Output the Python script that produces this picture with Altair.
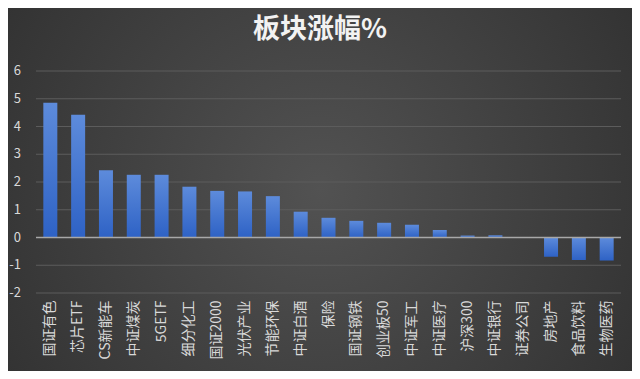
import altair as alt
import pandas as pd

categories = ["国证有色", "芯片ETF", "CS新能车", "中证煤炭", "5GETF", "细分化工", "国证2000",
              "光伏产业", "节能环保", "中证白酒", "保险", "国证钢铁", "创业板50", "中证军工",
              "中证医疗", "沪深300", "中证银行", "证券公司", "房地产", "食品饮料", "生物医药"]
values = [4.86, 4.42, 2.42, 2.26, 2.26, 1.83, 1.68, 1.66, 1.49, 0.93, 0.71, 0.60, 0.53,
          0.46, 0.27, 0.07, 0.08, 0.0, -0.69, -0.81, -0.83]
y_ticks = [-2, -1, 0, 1, 2, 3, 4, 5, 6]
title_text = "板块涨幅%"

df = pd.DataFrame({"cat": categories, "val": values})
grid_df = pd.DataFrame({"g": y_ticks, "lab": [str(t) for t in y_ticks]})

FONT = "Noto Sans CJK SC"
W, H = 585, 222
yscale = alt.Scale(domain=[-2, 6], nice=False)

bg = alt.Chart(pd.DataFrame({"a": [0]})).mark_rect(
    clip=False,
    fill=alt.RadialGradient(
        gradient="radial", x1=0.5, y1=0.5, r1=0, x2=0.5, y2=0.5, r2=0.75,
        stops=[alt.GradientStop(offset=0, color="#525252"),
               alt.GradientStop(offset=1, color="#2a2a2a")]),
).encode(x=alt.value(-28), x2=alt.value(596), y=alt.value(-63), y2=alt.value(300))

grid = alt.Chart(grid_df).mark_rule(color="#5c5c5c", strokeWidth=1).encode(
    y=alt.Y("g:Q", scale=yscale, title=None, axis=None))

ylabels = alt.Chart(grid_df).mark_text(
    font=FONT, fontSize=13, color="#d9d9d9", align="right", baseline="middle",
    clip=False,
).encode(y=alt.Y("g:Q", scale=yscale, axis=None), text="lab:N", x=alt.value(-15))

bars = alt.Chart(df).mark_bar(
    size=14,
    fill=alt.LinearGradient(
        gradient="linear", x1=0, y1=0, x2=0, y2=1,
        stops=[alt.GradientStop(offset=0, color="#5d8bdb"),
               alt.GradientStop(offset=1, color="#2e62c5")]),
).encode(
    x=alt.X("cat:N", sort=categories, title=None,
            scale=alt.Scale(paddingInner=0.47, paddingOuter=0.25),
            axis=alt.Axis(labelAngle=-90, labelFont=FONT, labelFontSize=14,
                          labelColor="#d9d9d9", labelPadding=7, domain=False,
                          ticks=False, grid=False, zindex=1,
                          labelOverlap=False)),
    y=alt.Y("val:Q", scale=yscale, title=None, axis=None),
)

zero = alt.Chart(pd.DataFrame({"z": [0]})).mark_rule(
    color="#a8a8a8", strokeWidth=1.5
).encode(y=alt.Y("z:Q", scale=yscale, axis=None))

title = alt.Chart(pd.DataFrame({"t": [title_text]})).mark_text(
    font=FONT, fontSize=27, fontWeight="bold", color="#f2f2f2",
    align="center", baseline="middle", clip=False,
).encode(text="t:N", x=alt.value(284), y=alt.value(-41))

chart = alt.layer(bg, grid, bars, zero, ylabels, title).properties(
    width=W, height=H,
    autosize=alt.AutoSizeParams(type="none"),
    padding={"left": 28, "top": 63, "right": 11, "bottom": 78},
    background="#2e2e2e",
).configure_view(stroke=None)

chart.save("out.html", embed_options={"renderer": "svg", "actions": False})
